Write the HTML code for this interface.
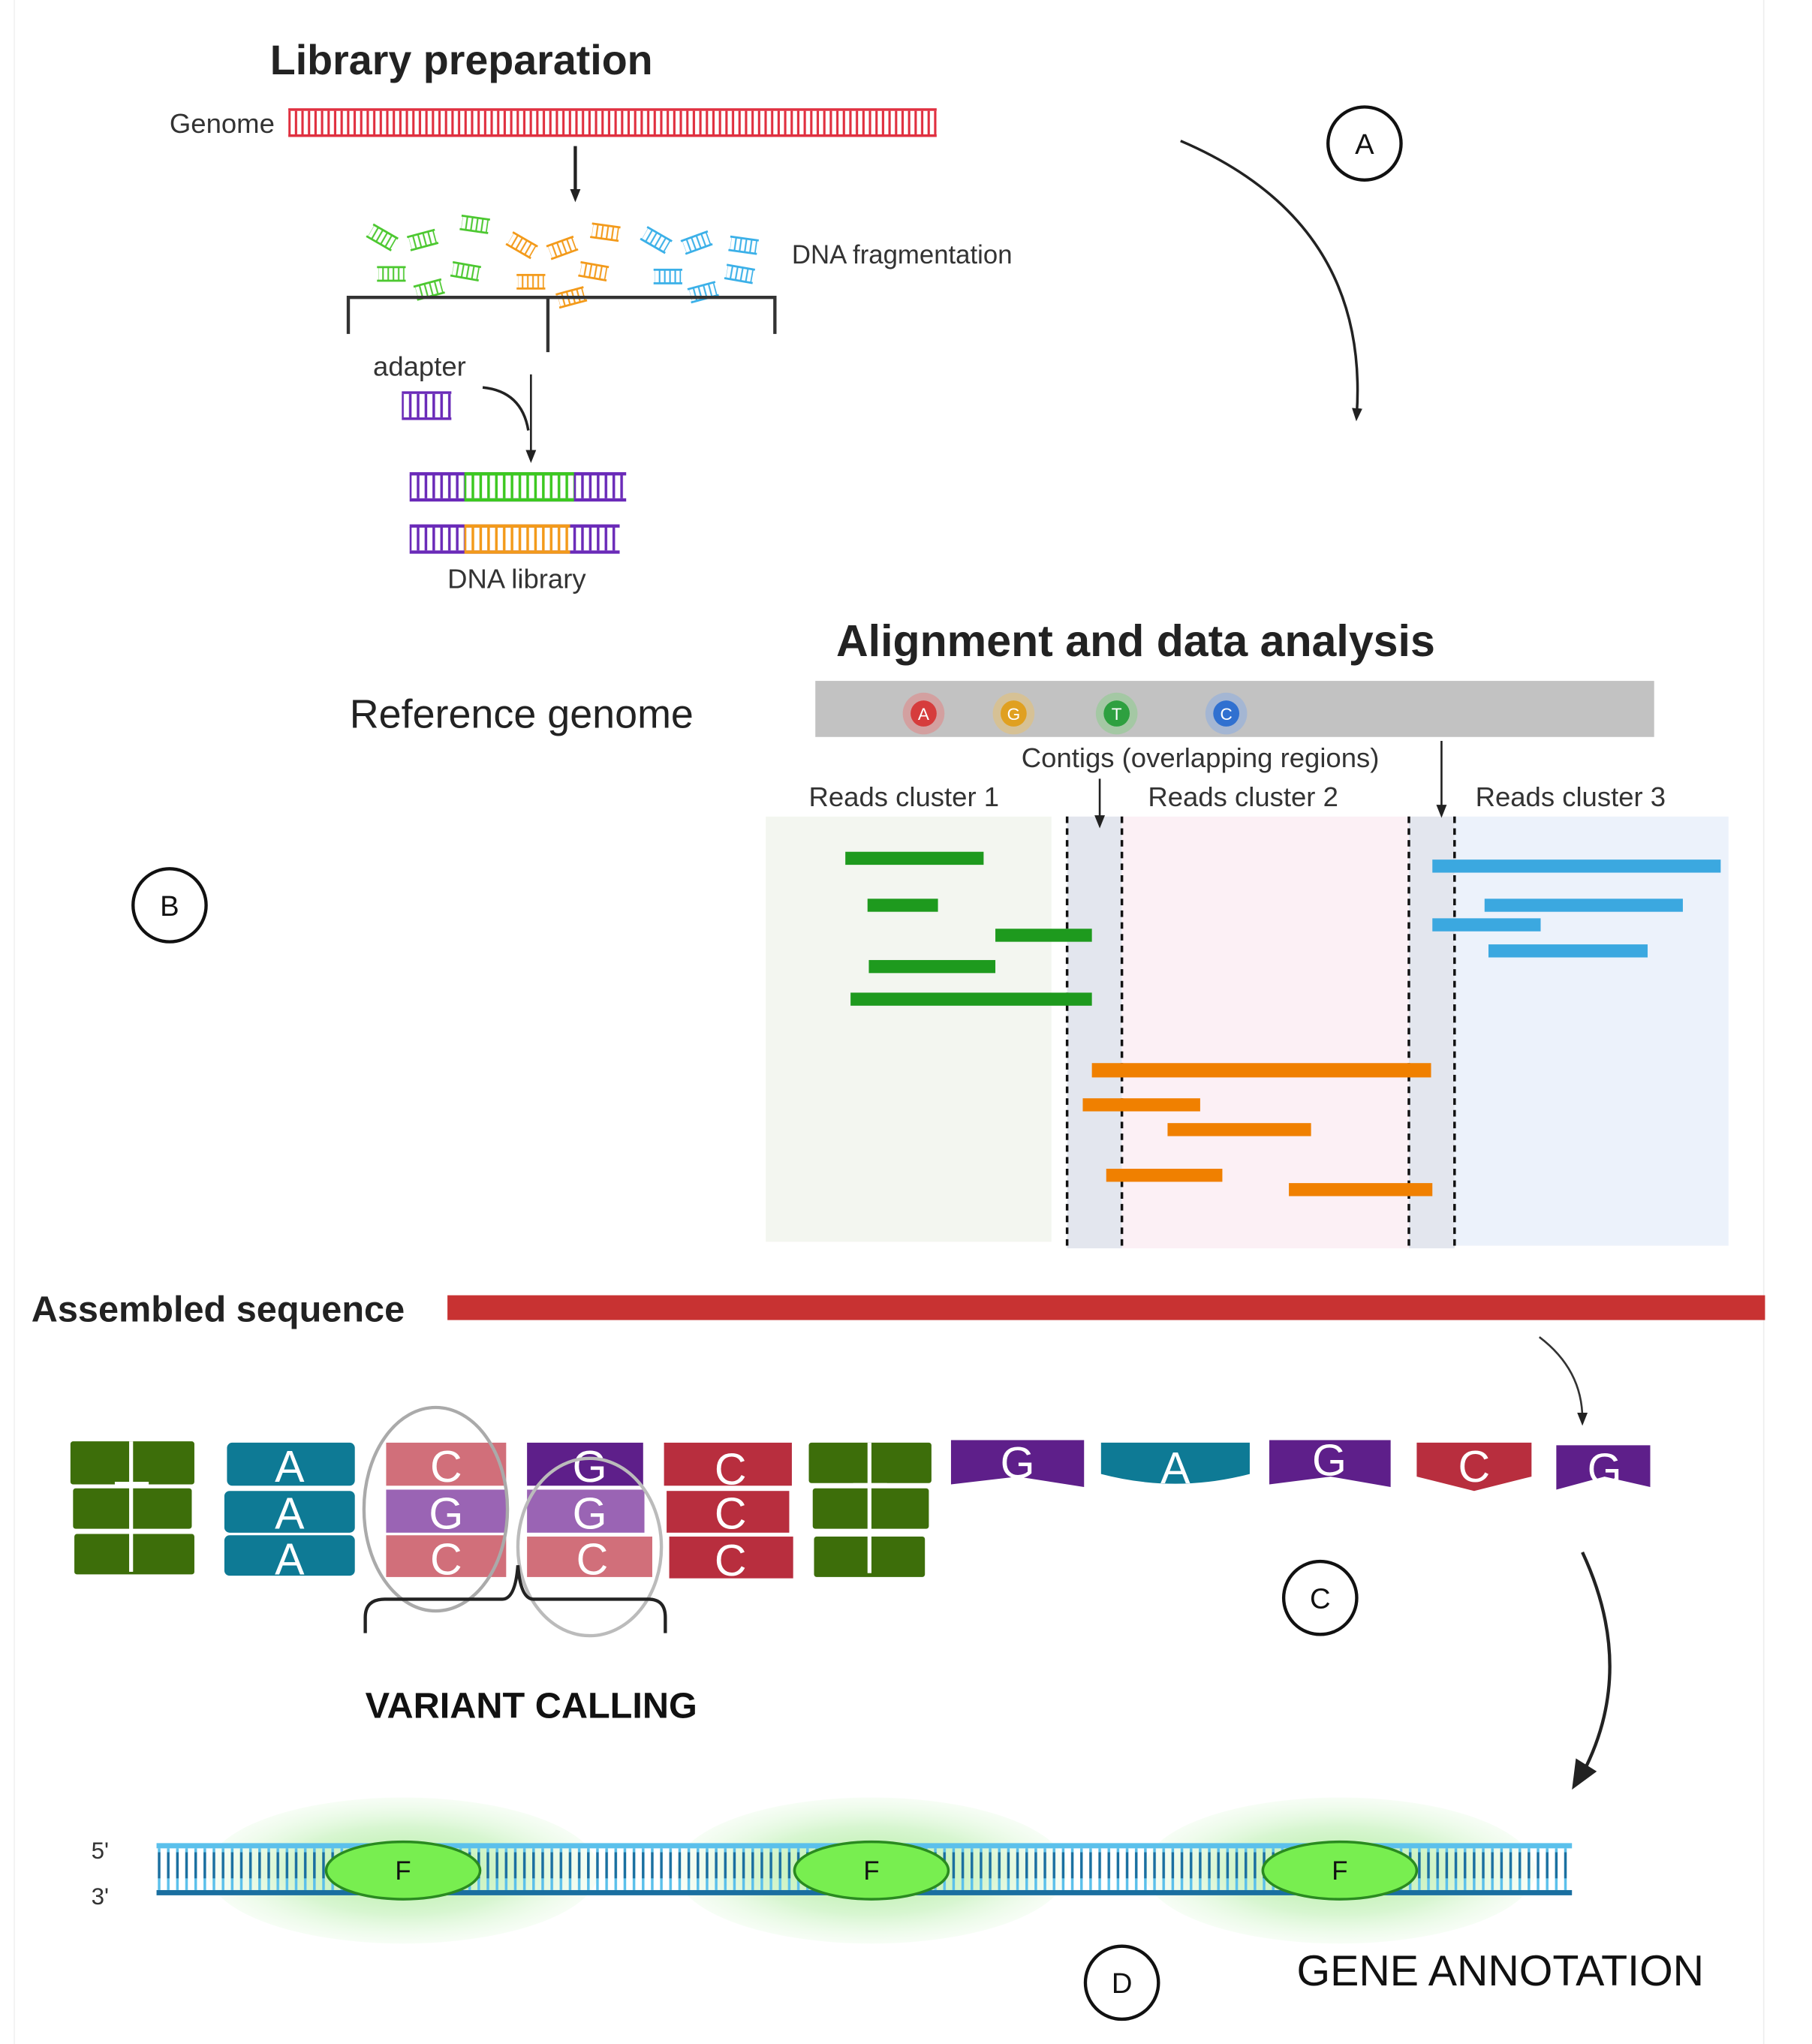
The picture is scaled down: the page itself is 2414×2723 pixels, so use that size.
<!DOCTYPE html>
<html><head><meta charset="utf-8"><style>
html,body{margin:0;padding:0;background:#fff}
svg{display:block}
text{font-family:"Liberation Sans",sans-serif}
</style></head><body>
<svg width="2414" height="2723" viewBox="0 0 1389 1567" preserveAspectRatio="none" xmlns="http://www.w3.org/2000/svg">
<defs>
<pattern id="rr" width="5" height="30" patternUnits="userSpaceOnUse"><rect x="1" width="1.8" height="30" fill="#e03040"/></pattern>
<pattern id="rcg" width="4" height="30" patternUnits="userSpaceOnUse"><rect x="1" width="1.2" height="30" fill="#4cc830"/></pattern>
<pattern id="rco" width="4" height="30" patternUnits="userSpaceOnUse"><rect x="1" width="1.2" height="30" fill="#f39a1a"/></pattern>
<pattern id="rcb" width="4" height="30" patternUnits="userSpaceOnUse"><rect x="1" width="1.2" height="30" fill="#3bb0e8"/></pattern>
<pattern id="rp" width="6" height="30" patternUnits="userSpaceOnUse"><rect x="1.5" width="2" height="30" fill="#6a2ab8"/></pattern>
<pattern id="rg" width="6" height="30" patternUnits="userSpaceOnUse"><rect x="1.5" width="2" height="30" fill="#3cc820"/></pattern>
<pattern id="ro" width="6" height="30" patternUnits="userSpaceOnUse"><rect x="1.5" width="2" height="30" fill="#f39a1a"/></pattern>
<pattern id="rb" width="7" height="40" patternUnits="userSpaceOnUse"><rect x="2" width="2" height="20" fill="#5bc0eb"/><rect x="2" y="20" width="2" height="20" fill="#1a6fa0"/></pattern>
<g id="frg"><rect x="-11" y="-6" width="22" height="1.6" fill="#4cc830"/><rect x="-11" y="4.4" width="22" height="1.6" fill="#4cc830"/><rect x="-10" y="-5" width="20" height="10" fill="url(#rcg)"/></g>
<g id="fro"><rect x="-11" y="-6" width="22" height="1.6" fill="#f39a1a"/><rect x="-11" y="4.4" width="22" height="1.6" fill="#f39a1a"/><rect x="-10" y="-5" width="20" height="10" fill="url(#rco)"/></g>
<g id="frb"><rect x="-11" y="-6" width="22" height="1.6" fill="#3bb0e8"/><rect x="-11" y="4.4" width="22" height="1.6" fill="#3bb0e8"/><rect x="-10" y="-5" width="20" height="10" fill="url(#rcb)"/></g>
<radialGradient id="glow"><stop offset="0" stop-color="#7be05a" stop-opacity="0.6"/><stop offset="0.6" stop-color="#9be88a" stop-opacity="0.4"/><stop offset="1" stop-color="#c8f5c0" stop-opacity="0.15"/></radialGradient>
<marker id="ah" markerWidth="10" markerHeight="10" refX="5" refY="5" orient="auto" markerUnits="userSpaceOnUse"><path d="M0,1 L10,5 L0,9 Z" fill="#222"/></marker>
</defs>

<line x1="11" y1="0" x2="11" y2="1567" stroke="#f2f2f2"/>
<line x1="1352" y1="0" x2="1352" y2="1567" stroke="#eee"/>

<text x="207" y="57" font-size="32" font-weight="bold" fill="#222">Library preparation</text>
<text x="130" y="102" font-size="21" fill="#333">Genome</text>
<rect x="221" y="83" width="497" height="2" fill="#e03040"/>
<rect x="221" y="103" width="497" height="2" fill="#e03040"/>
<rect x="221" y="85" width="497" height="18" fill="url(#rr)"/>
<line x1="441" y1="112" x2="441" y2="150" stroke="#222" stroke-width="2.5" marker-end="url(#ah)"/>

<use href="#frg" transform="translate(293,182) rotate(30)"/>
<use href="#frg" transform="translate(324,184) rotate(-15)"/>
<use href="#frg" transform="translate(364,172) rotate(8)"/>
<use href="#frg" transform="translate(300,210)"/>
<use href="#frg" transform="translate(357,208) rotate(10)"/>
<use href="#frg" transform="translate(329,222) rotate(-15)"/>
<use href="#fro" transform="translate(400,188) rotate(30)"/>
<use href="#fro" transform="translate(431,190) rotate(-20)"/>
<use href="#fro" transform="translate(464,178) rotate(8)"/>
<use href="#fro" transform="translate(407,216)"/>
<use href="#fro" transform="translate(455,208) rotate(10)"/>
<use href="#fro" transform="translate(438,228) rotate(-15)"/>
<use href="#frb" transform="translate(503,184) rotate(30)"/>
<use href="#frb" transform="translate(534,186) rotate(-20)"/>
<use href="#frb" transform="translate(570,188) rotate(8)"/>
<use href="#frb" transform="translate(512,212)"/>
<use href="#frb" transform="translate(567,210) rotate(10)"/>
<use href="#frb" transform="translate(539,224) rotate(-15)"/>
<text x="607" y="202" font-size="20" fill="#333">DNA fragmentation</text>
<path d="M267,256 V228 H594 V256 M420,228 V270" fill="none" stroke="#333" stroke-width="2.5"/>
<text x="286" y="288" font-size="21" fill="#333">adapter</text>
<rect x="308" y="300" width="38" height="2" fill="#6a2ab8"/><rect x="308" y="320" width="38" height="2" fill="#6a2ab8"/>
<rect x="308" y="302" width="38" height="18" fill="url(#rp)"/>
<path d="M370,297 Q400,300 405,330" fill="none" stroke="#222" stroke-width="2"/>
<line x1="407" y1="287" x2="407" y2="350" stroke="#222" stroke-width="1.5" marker-end="url(#ah)"/>

<rect x="314" y="362" width="166" height="2.5" fill="#6a2ab8"/><rect x="314" y="382" width="166" height="2.5" fill="#6a2ab8"/>
<rect x="356" y="362" width="84" height="2.5" fill="#3cc820"/><rect x="356" y="382" width="84" height="2.5" fill="#3cc820"/>
<rect x="314" y="364" width="42" height="18" fill="url(#rp)"/><rect x="356" y="364" width="84" height="18" fill="url(#rg)"/><rect x="440" y="364" width="40" height="18" fill="url(#rp)"/>
<rect x="314" y="402" width="161" height="2.5" fill="#6a2ab8"/><rect x="314" y="422" width="161" height="2.5" fill="#6a2ab8"/>
<rect x="356" y="402" width="81" height="2.5" fill="#f39a1a"/><rect x="356" y="422" width="81" height="2.5" fill="#f39a1a"/>
<rect x="314" y="404" width="42" height="18" fill="url(#rp)"/><rect x="356" y="404" width="81" height="18" fill="url(#ro)"/><rect x="437" y="404" width="38" height="18" fill="url(#rp)"/>
<text x="343" y="451" font-size="21" fill="#333">DNA library</text>

<circle cx="1046" cy="110" r="28" fill="#fff" stroke="#111" stroke-width="2.5"/>
<text x="1046" y="118" font-size="22" text-anchor="middle" fill="#111">A</text>
<path d="M905,108 Q1050,170 1040,318" fill="none" stroke="#222" stroke-width="2" marker-end="url(#ah)"/>

<text x="641" y="503" font-size="34" font-weight="bold" fill="#222">Alignment and data analysis</text>
<text x="268" y="558" font-size="31" fill="#222">Reference genome</text>
<rect x="625" y="522" width="643" height="43" fill="#c2c2c2"/>
<g font-size="13" text-anchor="middle" fill="#fff">
<circle cx="708" cy="547" r="16" fill="#e87878" opacity="0.45"/><circle cx="708" cy="547" r="10" fill="#d63c3c"/><text x="708" y="552">A</text>
<circle cx="777" cy="547" r="16" fill="#f0c060" opacity="0.45"/><circle cx="777" cy="547" r="10" fill="#e0a020"/><text x="777" y="552">G</text>
<circle cx="856" cy="547" r="16" fill="#80d080" opacity="0.45"/><circle cx="856" cy="547" r="10" fill="#2ea040"/><text x="856" y="552">T</text>
<circle cx="940" cy="547" r="16" fill="#80a8e8" opacity="0.45"/><circle cx="940" cy="547" r="10" fill="#3070d0"/><text x="940" y="552">C</text>
</g>
<text x="783" y="588" font-size="21" fill="#333">Contigs (overlapping regions)</text>
<text x="620" y="618" font-size="21" fill="#333">Reads cluster 1</text>
<text x="880" y="618" font-size="21" fill="#333">Reads cluster 2</text>
<text x="1131" y="618" font-size="21" fill="#333">Reads cluster 3</text>
<rect x="587" y="626" width="219" height="326" fill="#f3f6f0"/>
<rect x="818" y="626" width="42" height="331" fill="#e3e6ee"/>
<rect x="860" y="626" width="220" height="331" fill="#fcf0f5"/>
<rect x="1080" y="626" width="35" height="331" fill="#e3e6ee"/>
<rect x="1115" y="626" width="210" height="329" fill="#ecf2fb"/>
<g stroke="#111" stroke-width="2" stroke-dasharray="5,4">
<line x1="818" y1="626" x2="818" y2="957"/><line x1="860" y1="626" x2="860" y2="957"/>
<line x1="1080" y1="626" x2="1080" y2="957"/><line x1="1115" y1="626" x2="1115" y2="957"/>
</g>
<line x1="843" y1="597" x2="843" y2="630" stroke="#222" stroke-width="1.5" marker-end="url(#ah)"/>
<line x1="1105" y1="568" x2="1105" y2="622" stroke="#222" stroke-width="1.5" marker-end="url(#ah)"/>
<g fill="#1e9a1e">
<rect x="648" y="653" width="106" height="10"/><rect x="665" y="689" width="54" height="10"/><rect x="763" y="712" width="74" height="10"/><rect x="666" y="736" width="97" height="10"/><rect x="652" y="761" width="185" height="10"/>
</g>
<g fill="#f08000">
<rect x="837" y="815" width="260" height="11"/><rect x="830" y="842" width="90" height="10"/><rect x="895" y="861" width="110" height="10"/><rect x="848" y="896" width="89" height="10"/><rect x="988" y="907" width="110" height="10"/>
</g>
<g fill="#3ba8e0">
<rect x="1098" y="659" width="221" height="10"/><rect x="1138" y="689" width="152" height="10"/><rect x="1098" y="704" width="83" height="10"/><rect x="1141" y="724" width="122" height="10"/>
</g>
<circle cx="130" cy="694" r="28" fill="#fff" stroke="#111" stroke-width="2.5"/>
<text x="130" y="702" font-size="22" text-anchor="middle" fill="#111">B</text>

<text x="24" y="1013" font-size="28" font-weight="bold" fill="#222">Assembled sequence</text>
<rect x="343" y="993" width="1010" height="19" fill="#c83232"/>
<path d="M1180,1025 Q1213,1050 1213,1088" fill="none" stroke="#333" stroke-width="1.5" marker-end="url(#ah)"/>

<g font-size="34" fill="#fff" text-anchor="middle" stroke="none">
<rect x="54" y="1105" width="95" height="33" rx="2" fill="#3d6e0a"/><rect x="56" y="1141" width="91" height="31" rx="2" fill="#3d6e0a"/><rect x="57" y="1176" width="92" height="31" rx="2" fill="#3d6e0a"/>
<rect x="99" y="1105" width="3" height="100" fill="#fff"/><rect x="88" y="1136" width="26" height="3" fill="#fff"/>
<rect x="174" y="1106" width="98" height="33" rx="4" fill="#0e7a95"/><rect x="172" y="1143" width="100" height="32" rx="4" fill="#0e7a95"/><rect x="172" y="1177" width="100" height="31" rx="4" fill="#0e7a95"/>
<text x="222" y="1136">A</text><text x="222" y="1172">A</text><text x="222" y="1207">A</text>
<rect x="296" y="1106" width="92" height="33" fill="#d16f7a"/><rect x="296" y="1142" width="92" height="33" fill="#9a64b4"/><rect x="296" y="1177" width="92" height="32" fill="#d16f7a"/>
<text x="342" y="1136">C</text><text x="342" y="1172">G</text><text x="342" y="1207">C</text>
<rect x="404" y="1106" width="89" height="33" fill="#5e1f8a"/><rect x="404" y="1142" width="90" height="33" fill="#9a64b4"/><rect x="404" y="1178" width="96" height="31" fill="#d16f7a"/>
<text x="452" y="1136">G</text><text x="452" y="1172">G</text><text x="454" y="1207">C</text>
<rect x="509" y="1106" width="98" height="33" fill="#b82e3e"/><rect x="511" y="1143" width="94" height="32" fill="#b82e3e"/><rect x="513" y="1178" width="95" height="32" fill="#b82e3e"/>
<text x="560" y="1138">C</text><text x="560" y="1172">C</text><text x="560" y="1208">C</text>
<rect x="620" y="1106" width="94" height="31" rx="2" fill="#3d6e0a"/><rect x="623" y="1141" width="89" height="31" rx="2" fill="#3d6e0a"/><rect x="624" y="1178" width="85" height="31" rx="2" fill="#3d6e0a"/>
<rect x="665" y="1106" width="3" height="100" fill="#fff"/><rect x="654" y="1137" width="26" height="3" fill="#fff"/>
<path d="M729,1104 H831 V1140 L780,1132 L729,1138 Z" fill="#5e1f8a"/><text x="780" y="1133">G</text>
<path d="M844,1106 H958 V1130 Q901,1145 844,1130 Z" fill="#0e7a95"/><text x="901" y="1137">A</text>
<path d="M973,1104 H1066 V1140 L1020,1132 L973,1138 Z" fill="#5e1f8a"/><text x="1019" y="1131">G</text>
<path d="M1086,1106 H1174 V1132 L1130,1143 L1086,1132 Z" fill="#b82e3e"/><text x="1130" y="1136">C</text>
<path d="M1193,1108 H1265 V1140 L1230,1132 L1193,1142 Z" fill="#5e1f8a"/><text x="1230" y="1138">G</text>
</g>
<ellipse cx="334" cy="1157" rx="55" ry="78" fill="none" stroke="#aaa" stroke-width="2.5"/>
<ellipse cx="452" cy="1186" rx="55" ry="68" fill="none" stroke="#bbb" stroke-width="2.5"/>
<path d="M280,1252 V1240 Q280,1226 295,1226 H385 Q395,1226 397,1200 Q399,1226 409,1226 H497 Q510,1226 510,1240 V1252" fill="none" stroke="#222" stroke-width="2.5"/>
<text x="280" y="1317" font-size="28" font-weight="bold" fill="#111">VARIANT CALLING</text>
<circle cx="1012" cy="1225" r="28" fill="#fff" stroke="#111" stroke-width="2.5"/>
<text x="1012" y="1233" font-size="22" text-anchor="middle" fill="#111">C</text>
<path d="M1213,1190 Q1255,1280 1213,1360" fill="none" stroke="#222" stroke-width="2.5"/>
<path d="M1205,1372 L1208,1348 L1224,1358 Z" fill="#222"/>

<ellipse cx="309" cy="1434" rx="150" ry="56" fill="url(#glow)"/>
<ellipse cx="668" cy="1434" rx="150" ry="56" fill="url(#glow)"/>
<ellipse cx="1027" cy="1434" rx="150" ry="56" fill="url(#glow)"/>
<rect x="120" y="1413" width="1085" height="4" fill="#5bc0eb"/>
<rect x="120" y="1449" width="1085" height="4" fill="#1a6fa0"/>
<rect x="120" y="1417" width="1085" height="32" fill="url(#rb)"/>
<g font-size="20" text-anchor="middle" fill="#111">
<ellipse cx="309" cy="1434" rx="59" ry="22" fill="#78ee50" stroke="#2a8a20" stroke-width="2"/><text x="309" y="1441">F</text>
<ellipse cx="668" cy="1434" rx="59" ry="22" fill="#78ee50" stroke="#2a8a20" stroke-width="2"/><text x="668" y="1441">F</text>
<ellipse cx="1027" cy="1434" rx="59" ry="22" fill="#78ee50" stroke="#2a8a20" stroke-width="2"/><text x="1027" y="1441">F</text>
</g>
<text x="70" y="1425" font-size="18" fill="#333">5'</text>
<text x="70" y="1460" font-size="18" fill="#333">3'</text>
<circle cx="860" cy="1520" r="28" fill="#fff" stroke="#111" stroke-width="2.5"/>
<text x="860" y="1528" font-size="22" text-anchor="middle" fill="#111">D</text>
<text x="994" y="1522" font-size="33" fill="#111">GENE ANNOTATION</text>
</svg>
</body></html>
